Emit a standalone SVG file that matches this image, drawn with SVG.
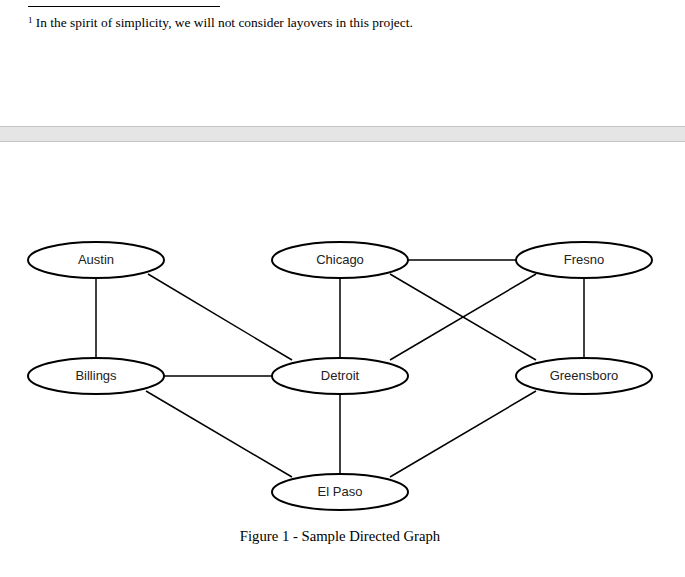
<svg xmlns="http://www.w3.org/2000/svg" width="685" height="577" viewBox="0 0 685 577">
<style>
.n ellipse{fill:#fff;stroke:#000;stroke-width:2}
.n text{font-family:"Liberation Sans",Arial,sans-serif;font-size:13px;fill:#222;text-anchor:middle}
#edges line{stroke:#000;stroke-width:1.5}
.serif{font-family:"Liberation Serif","Times New Roman",serif;fill:#000}
</style>
<rect width="685" height="577" fill="#fff"/>
<line x1="28" y1="6.5" x2="220" y2="6.5" stroke="#000" stroke-width="1"/>
<text class="serif" x="28" y="27" font-size="13.4"><tspan font-size="9" dy="-4">1</tspan><tspan dy="4"> In the spirit of simplicity, we will not consider layovers in this project.</tspan></text>
<rect x="0" y="126" width="685" height="15" fill="#e5e5e5"/>
<line x1="0" y1="126.5" x2="685" y2="126.5" stroke="#c6c6c6"/>
<line x1="0" y1="141.5" x2="685" y2="141.5" stroke="#c6c6c6"/>
<g id="edges">
<line x1="96" y1="278" x2="96" y2="358"/>
<line x1="148" y1="274" x2="292" y2="360"/>
<line x1="340" y1="278" x2="340" y2="358"/>
<line x1="408" y1="260" x2="516" y2="260"/>
<line x1="390" y1="274" x2="536" y2="360"/>
<line x1="536" y1="274" x2="390" y2="360"/>
<line x1="584" y1="278" x2="584" y2="358"/>
<line x1="164" y1="376" x2="272" y2="376"/>
<line x1="146" y1="391" x2="292" y2="477"/>
<line x1="340" y1="394" x2="340" y2="474"/>
<line x1="536" y1="391" x2="390" y2="477"/>
</g>
<g id="austin" class="n"><ellipse cx="96" cy="260" rx="68" ry="18"/><text x="96" y="264">Austin</text></g>
<g id="chicago" class="n"><ellipse cx="340" cy="260" rx="68" ry="18"/><text x="340" y="264">Chicago</text></g>
<g id="fresno" class="n"><ellipse cx="584" cy="260" rx="68" ry="18"/><text x="584" y="264">Fresno</text></g>
<g id="billings" class="n"><ellipse cx="96" cy="376" rx="68" ry="18"/><text x="96" y="380">Billings</text></g>
<g id="detroit" class="n"><ellipse cx="340" cy="376" rx="68" ry="18"/><text x="340" y="380">Detroit</text></g>
<g id="greensboro" class="n"><ellipse cx="584" cy="376" rx="68" ry="18"/><text x="584" y="380">Greensboro</text></g>
<g id="elpaso" class="n"><ellipse cx="340" cy="492" rx="68" ry="18"/><text x="340" y="496">El Paso</text></g>
<text class="serif" x="340" y="541" font-size="14.7" text-anchor="middle">Figure 1 - Sample Directed Graph</text>
</svg>
